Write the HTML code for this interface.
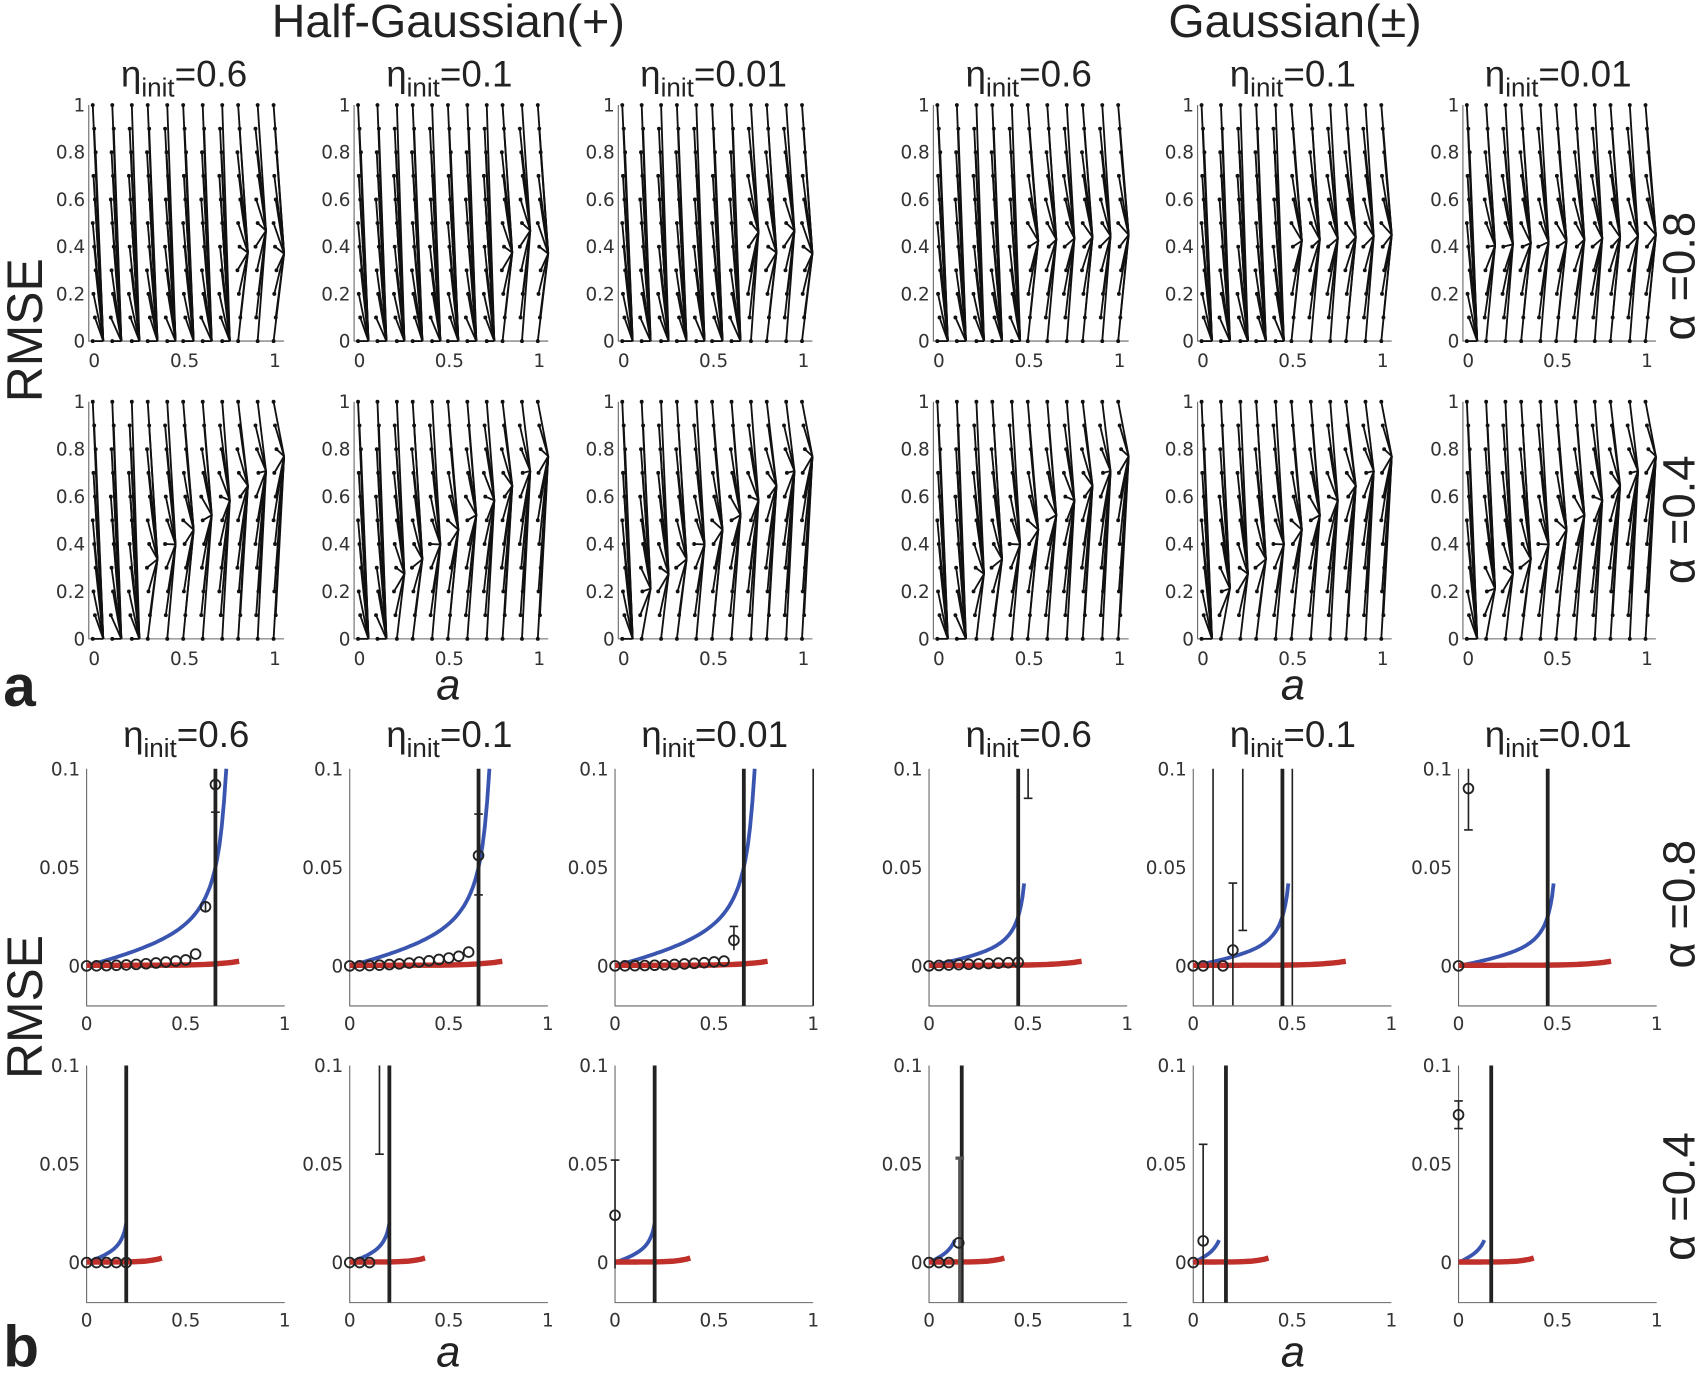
<!DOCTYPE html>
<html><head><meta charset="utf-8"><style>
html,body{margin:0;padding:0;background:#fff;}
svg{display:block;}
text{font-family:"Liberation Sans","DejaVu Sans",sans-serif;}
.tk{font-family:"DejaVu Sans","Liberation Sans",sans-serif;}
</style></head><body>
<svg id="s" width="1700" height="1373" viewBox="0 0 1568 1268" xmlns="http://www.w3.org/2000/svg">
<text x="413" y="34" font-size="43" text-anchor="middle" fill="#222">Half-Gaussian(+)</text>
<text x="1195" y="34" font-size="43" text-anchor="middle" fill="#222">Gaussian(±)</text>
<text x="2" y="652" font-size="54" font-weight="bold" fill="#222">a</text>
<text x="2" y="1262" font-size="54" font-weight="bold" fill="#222">b</text>
<text x="413" y="646" font-size="40" font-style="italic" font-family="Liberation Serif" text-anchor="middle" fill="#222">a</text>
<text x="1193" y="646" font-size="40" font-style="italic" font-family="Liberation Serif" text-anchor="middle" fill="#222">a</text>
<text x="413" y="1262" font-size="40" font-style="italic" font-family="Liberation Serif" text-anchor="middle" fill="#222">a</text>
<text x="1193" y="1262" font-size="40" font-style="italic" font-family="Liberation Serif" text-anchor="middle" fill="#222">a</text>
<text transform="translate(38,305) rotate(-90)" font-size="46" text-anchor="middle" fill="#222">RMSE</text>
<text transform="translate(38,930) rotate(-90)" font-size="46" text-anchor="middle" fill="#222">RMSE</text>
<text transform="translate(1564,255) rotate(-90)" font-size="42" text-anchor="middle" fill="#222">α =0.8</text>
<text transform="translate(1564,480) rotate(-90)" font-size="42" text-anchor="middle" fill="#222">α =0.4</text>
<text transform="translate(1564,835) rotate(-90)" font-size="42" text-anchor="middle" fill="#222">α =0.8</text>
<text transform="translate(1564,1105) rotate(-90)" font-size="42" text-anchor="middle" fill="#222">α =0.4</text>
<g id="g"></g>
</svg>
<script>
var g=document.getElementById('g'),h='';
var etas=['0.6','0.1','0.01','0.6','0.1','0.01'];
var ax=[86,331,575,866,1110,1355], axw=[167,166,166,167,166,165];
var bx=[79,322,567,857,1101,1346];
function T(x,y,t,s,a){return '<text class="tk" x="'+x+'" y="'+y+'" font-size="'+s+'" text-anchor="'+(a||'middle')+'" fill="#333">'+t+'</text>';}
function title(cx,y){return '<text x="'+cx+'" y="'+y+'" font-size="34" text-anchor="middle" fill="#222">η<tspan font-size="24" dy="9">init</tspan><tspan dy="-9">='+'ETA'+'</tspan></text>';}
var thr=[[0.72,0.72,0.68,0.5,0.5,0.05],[0.3,0.15,0.05,0.2,0.1,0.05]];
for(var c=0;c<6;c++){
 var cx=ax[c]+83; h+=title(cx,80).replace('ETA',etas[c]);
 h+=title(bx[c]+92,690).replace('ETA',etas[c]);
 for(var r=0;r<2;r++){
  var x0=ax[c],w=axw[c],yt=r?371:97,yb=r?590:315,H=yb-yt;
  var X=function(v){return x0+v*w},Y=function(v){return yb-v*H};
  h+='<path d="M'+X(-0.03)+' '+yt+'V'+yb+'H'+X(1.05)+'" stroke="#666" fill="none" stroke-width="1"/>';
  for(var k=0;k<=5;k++){var v=k/5;h+=T(X(-0.05),Y(v)+6,k==0?'0':k==5?'1':v.toFixed(1),17,'end');}
  [0,0.5,1].forEach(function(v){h+=T(X(v),yb+24,v==0?'0':v==1?'1':'0.5',17);});
  var t=thr[r][c];
  for(var i=0;i<=10;i++){var xs=i*0.1;
   for(var j=0;j<=10;j++){var ys=j*0.1,ex,ey;
    if(xs<t){ex=xs+0.05;ey=0;}else{ex=xs+0.05;ey=r? (0.15+0.62*xs):(c>=3?0.4+0.05*xs:0.42+0.05*Math.sin(i*3));}
    if(xs+0.05>1.05)ex=1.03;
    var jx=((i*7+j*13)%5-2)*0.004;
    h+='<line x1="'+X(xs+jx)+'" y1="'+Y(ys)+'" x2="'+X(ex)+'" y2="'+Y(ey)+'" stroke="#111" stroke-width="1.7"/>';
    h+='<circle cx="'+X(xs+jx)+'" cy="'+Y(ys)+'" r="1.8" fill="#111"/>';
   }}
 }
}
function f(a){return 0.02*a+0.0057*a/(0.75-a);}
for(var c=0;c<6;c++){for(var r=0;r<2;r++){
 var x0=bx[c],w=183,y1=r?984:710,y0=r?1166:892,yb=r?1203:929;
 var X=function(v){return x0+v*w},Y=function(v){return y0-v*(y0-y1)/0.1};
 h+='<path d="M'+x0+' '+y1+'V'+yb+'H'+X(1)+'" stroke="#666" fill="none"/>';
 [[0,'0'],[0.05,'0.05'],[0.1,'0.1']].forEach(function(p){h+=T(x0-6,Y(p[0])+6,p[1],17,'end');});
 [[0,'0'],[0.5,'0.5'],[1,'1']].forEach(function(p){h+=T(X(p[0]),yb+22,p[1],17);});
 var G=c>=3,amax,fn,vl,rmax;
 if(r==0){ if(!G){amax=0.705;fn=function(a){return f(a)};vl=0.65;}else{amax=0.48;fn=function(a){return 0.5*f(a*0.65/0.45)};vl=0.45;} rmax=0.77;}
 else{ if(!G){amax=0.2;fn=function(a){return 0.4*f(a*0.65/0.2)};vl=0.2;}else{amax=0.13;fn=function(a){return 0.4*f(a*0.65/0.15)};vl=0.165;} rmax=0.38;}
 var d='';for(var k=0;k<=60;k++){var a=amax*k/60;var v=Math.min(fn(a),0.1);d+=(k?'L':'M')+X(a).toFixed(1)+' '+Y(v).toFixed(1);}
 h+='<path d="'+d+'" stroke="#3a55b0" stroke-width="3.5" fill="none"/>';
 d='';for(var k=0;k<=40;k++){var a=rmax*k/40;var v=0.0003+0.002*Math.pow(a/rmax,6);d+=(k?'L':'M')+X(a).toFixed(1)+' '+Y(v).toFixed(1);}
 h+='<path d="'+d+'" stroke="#c0302a" stroke-width="5" fill="none"/>';
 h+='<line x1="'+X(vl)+'" y1="'+y1+'" x2="'+X(vl)+'" y2="'+yb+'" stroke="#222" stroke-width="3.5"/>';
 var pts=[];
 if(r==0&&c==0){for(var k=0;k<=10;k++)pts.push([k*0.05,0.0003*k*k/10]);pts.push([0.55,0.006],[0.6,0.03],[0.65,0.092]);h+='<path d="M'+X(0.6)+' '+Y(0.033)+'V'+Y(0.027)+'M'+(X(0.65)-4)+' '+Y(0.078)+'h8" stroke="#222" stroke-width="1.5"/>';}
 if(r==0&&c==1){for(var k=0;k<=11;k++)pts.push([k*0.05,0.0004*k*k/10]);pts.push([0.6,0.007],[0.65,0.056]);h+='<path d="M'+(X(0.65)-4)+' '+Y(0.077)+'h8M'+(X(0.65)-4)+' '+Y(0.036)+'h8" stroke="#222" stroke-width="1.5"/>';}
 if(r==0&&c==2){for(var k=0;k<=11;k++)pts.push([k*0.05,0.0002*k*k/10]);pts.push([0.6,0.013]);h+='<line x1="'+X(1)+'" y1="'+y1+'" x2="'+X(1)+'" y2="'+yb+'" stroke="#222" stroke-width="1.5"/><path d="M'+X(0.6)+' '+Y(0.02)+'V'+Y(0.008)+'M'+(X(0.6)-4)+' '+Y(0.02)+'h8" stroke="#222" stroke-width="1.5"/>';}
 if(r==0&&c==3){for(var k=0;k<=9;k++)pts.push([k*0.05,0.0002*k]);h+='<path d="M'+X(0.5)+' '+y1+'V'+Y(0.085)+'M'+(X(0.5)-4)+' '+Y(0.085)+'h8" stroke="#222" stroke-width="1.5"/>';}
 if(r==0&&c==4){pts.push([0,0],[0.05,0],[0.15,0],[0.2,0.008]);[[0.1,0.1,-0.02],[0.2,0.042,-0.02],[0.25,0.1,0.018],[0.5,0.1,-0.02]].forEach(function(e){h+='<path d="M'+X(e[0])+' '+Y(e[1])+'V'+Y(e[2])+'" stroke="#222" stroke-width="1.5"/>';});h+='<path d="M'+(X(0.2)-4)+' '+Y(0.042)+'h8M'+(X(0.25)-4)+' '+Y(0.018)+'h8" stroke="#222" stroke-width="1.5"/>';}
 if(r==0&&c==5){pts.push([0,0],[0.05,0.09]);h+='<path d="M'+X(0.05)+' '+y1+'V'+Y(0.069)+'M'+(X(0.05)-4)+' '+Y(0.069)+'h8" stroke="#222" stroke-width="1.5"/>';}
 if(r==1&&c==0){pts.push([0,0],[0.05,0],[0.1,0],[0.15,0],[0.2,0]);}
 if(r==1&&c==1){pts.push([0,0],[0.05,0],[0.1,0]);h+='<path d="M'+X(0.15)+' '+y1+'V'+Y(0.055)+'M'+(X(0.15)-4)+' '+Y(0.055)+'h8" stroke="#222" stroke-width="1.5"/>';}
 if(r==1&&c==2){pts.push([0,0.024]);h+='<path d="M'+X(0)+' '+Y(0.052)+'V'+Y(-0.003)+'M'+(X(0)-4)+' '+Y(0.052)+'h8" stroke="#222" stroke-width="1.5"/>';}
 if(r==1&&c==3){pts.push([0,0],[0.05,0],[0.1,0],[0.15,0.01]);h+='<path d="M'+X(0.155)+' '+Y(0.053)+'V'+yb+'M'+(X(0.155)-4)+' '+Y(0.053)+'h8" stroke="#555" stroke-width="3"/>';}
 if(r==1&&c==4){pts.push([0,0],[0.05,0.011]);h+='<path d="M'+X(0.05)+' '+Y(0.06)+'V'+yb+'M'+(X(0.05)-4)+' '+Y(0.06)+'h8" stroke="#222" stroke-width="1.5"/>';}
 if(r==1&&c==5){pts.push([0,0.075]);h+='<path d="M'+X(0)+' '+Y(0.082)+'V'+Y(0.068)+'M'+(X(0)-4)+' '+Y(0.082)+'h8M'+(X(0)-4)+' '+Y(0.068)+'h8" stroke="#222" stroke-width="1.5"/>';}
 pts.forEach(function(p){h+='<circle cx="'+X(p[0])+'" cy="'+Y(p[1])+'" r="4.5" fill="none" stroke="#222" stroke-width="1.7"/>';});
}}
g.innerHTML=h;
</script>
</body></html>
